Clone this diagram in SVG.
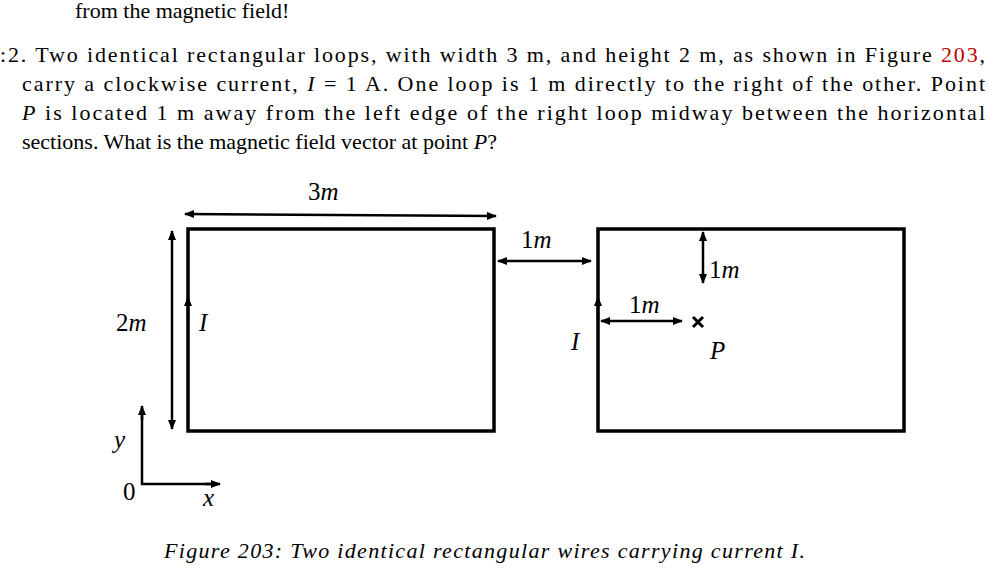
<svg xmlns="http://www.w3.org/2000/svg" width="989" height="569" viewBox="0 0 989 569">
<defs>
<marker id="ah" markerWidth="10" markerHeight="8" refX="9" refY="4" orient="auto-start-reverse" markerUnits="userSpaceOnUse"><path d="M0,0 L10,4 L0,8 Z" fill="#000"/></marker>
</defs>
<style>
.t{font-family:"Liberation Serif",serif;font-size:22px;fill:#000}
.m{font-family:"Liberation Serif",serif;font-size:25px;fill:#000}
.i{font-style:italic}
.w{fill:none;stroke:#000;stroke-width:3.5}
.d{stroke:#000;stroke-width:2.5;fill:none}
</style>
<rect width="989" height="569" fill="#fff"/>
<g id="text">
<text class="t" x="75" y="18">from the magnetic field!</text>
<text class="t" x="0" y="62" textLength="985" lengthAdjust="spacing">:2. Two identical rectangular loops, with width 3 m, and height 2 m, as shown in Figure <tspan fill="#c00000">203</tspan>,</text>
<text class="t" x="22" y="91" textLength="963" lengthAdjust="spacing">carry a clockwise current, <tspan class="i">I</tspan> = 1 A. One loop is 1 m directly to the right of the other. Point</text>
<text class="t" x="22" y="120" textLength="963" lengthAdjust="spacing"><tspan class="i">P</tspan> is located 1 m away from the left edge of the right loop midway between the horizontal</text>
<text class="t" x="22" y="149">sections. What is the magnetic field vector at point <tspan class="i">P</tspan>?</text>
<text class="t i" x="164" y="558" textLength="641" lengthAdjust="spacing">Figure 203:  Two identical rectangular wires carrying current I.</text>
</g>
<g id="loop-left"><rect class="w" x="188" y="229" width="306" height="202"/></g>
<g id="loop-right"><rect class="w" x="598" y="229" width="306" height="202"/></g>
<g id="connectors">
<line class="d" x1="185" y1="214" x2="496" y2="216" marker-start="url(#ah)" marker-end="url(#ah)"/>
<line class="d" x1="172" y1="231" x2="172" y2="429" marker-start="url(#ah)" marker-end="url(#ah)"/>
<line class="d" x1="498" y1="261" x2="591" y2="261" marker-start="url(#ah)" marker-end="url(#ah)"/>
<line class="d" x1="703" y1="232" x2="703" y2="283" marker-start="url(#ah)" marker-end="url(#ah)"/>
<line class="d" x1="601" y1="321" x2="682" y2="321" marker-start="url(#ah)" marker-end="url(#ah)"/>
<line class="d" x1="188" y1="320" x2="188" y2="297" marker-end="url(#ah)"/>
<line class="d" x1="598" y1="320" x2="598" y2="297" marker-end="url(#ah)"/>
<polyline class="d" points="142,410 142,484 218,484" stroke-width="3"/>
<line class="d" x1="142" y1="420" x2="142" y2="406" marker-end="url(#ah)"/>
<line class="d" x1="205" y1="484" x2="220" y2="484" marker-end="url(#ah)"/>
<path d="M693,317 L703,327 M703,317 L693,327" stroke="#000" stroke-width="3"/>
</g>
<g id="labels">
<text class="m" x="308" y="200">3<tspan class="i">m</tspan></text>
<text class="m" x="521" y="248">1<tspan class="i">m</tspan></text>
<text class="m" x="709" y="278">1<tspan class="i">m</tspan></text>
<text class="m" x="629" y="313">1<tspan class="i">m</tspan></text>
<text class="m" x="116" y="331">2<tspan class="i">m</tspan></text>
<text class="m i" x="199" y="331">I</text>
<text class="m i" x="571" y="350">I</text>
<text class="m i" x="710" y="359">P</text>
<text class="m i" x="114" y="448">y</text>
<text class="m" x="123" y="500" font-size="20">0</text>
<text class="m i" x="203" y="506">x</text>
</g>
</svg>
